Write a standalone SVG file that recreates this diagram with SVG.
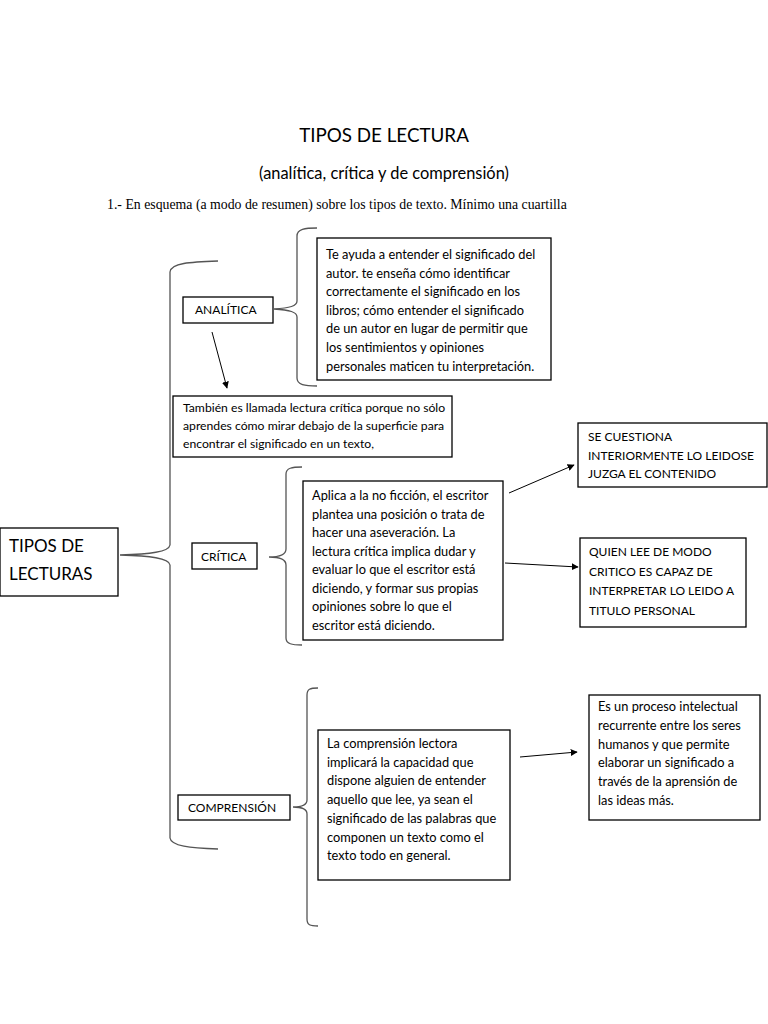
<svg xmlns="http://www.w3.org/2000/svg" width="768" height="1024" viewBox="0 0 768 1024">
<style>
.box{fill:#fff;stroke:#000;stroke-width:1.3}
.brace{fill:none;stroke:#555;stroke-width:1.3}
.arr{fill:none;stroke:#000;stroke-width:1}
.t{font-family:Lato,"Open Sans","Liberation Sans",sans-serif;fill:#000}
.s13{font-size:12.8px}
.s12{font-size:12px}
.s11{font-size:12.2px}
</style>
<defs>
<marker id="ah" viewBox="0 0 10 10" refX="9" refY="5" markerWidth="7" markerHeight="7" orient="auto" markerUnits="userSpaceOnUse">
<path d="M0,0 L10,5 L0,10 z" fill="#000"/>
</marker>
</defs>
<rect width="768" height="1024" fill="#fff"/>
<g id="header">
<text class="t" x="384" y="142" font-size="18.8" text-anchor="middle">TIPOS DE LECTURA</text>
<text class="t" x="384" y="179" font-size="16.4" text-anchor="middle">(analítica, crítica y de comprensión)</text>
<text x="107" y="209" font-family="'Liberation Serif','Times New Roman',serif" font-size="13.8">1.- En esquema (a modo de resumen) sobre los tipos de texto. Mínimo una cuartilla</text>
</g>
<g id="connectors">
<path class="brace" d="M218 261 C190 262 171 263 170 272 L170 545 C169 552 150 554 120 555 C150 556 169 558 170 565 L170 838 C171 846 190 848 218 849"/>
<path class="brace" d="M317 228 C305 228 297 229 297 236 L297 301 C297 306 290 308 274 309 C290 310 297 312 297 317 L297 378 C297 385 305 386 317 386"/>
<path class="brace" d="M302 467 C292 467 286 468 286 474 L286 549 C286 555 280 557 269 557 C280 557 286 559 286 565 L286 638 C286 644 292 645 302 645"/>
<path class="brace" d="M318 688 C310 688 307 689 307 695 L307 800 C307 805 302 807 293 807 C302 807 307 809 307 814 L307 919 C307 925 310 926 318 926"/>
<line class="arr" x1="212" y1="332" x2="227" y2="388" marker-end="url(#ah)"/>
<line class="arr" x1="509" y1="493" x2="574" y2="465" marker-end="url(#ah)"/>
<line class="arr" x1="505" y1="563" x2="578" y2="567" marker-end="url(#ah)"/>
<line class="arr" x1="520" y1="757" x2="577" y2="752" marker-end="url(#ah)"/>
</g>
<g id="tipos">
<rect class="box" x="0" y="528" width="118" height="68"/>
<text class="t" x="9" y="552" font-size="17">TIPOS DE</text>
<text class="t" x="9" y="580" font-size="17">LECTURAS</text>
</g>
<g id="analitica">
<rect class="box" x="183" y="297" width="90" height="26"/>
<text class="t s12" x="195" y="314">ANALÍTICA</text>
</g>
<g id="analitica-desc">
<rect class="box" x="317" y="238" width="234" height="142"/>
<text class="t s13" x="326" y="259">Te ayuda a entender el significado del</text>
<text class="t s13" x="326" y="277.6">autor. te enseña cómo identificar</text>
<text class="t s13" x="326" y="296.2">correctamente el significado en los</text>
<text class="t s13" x="326" y="314.8">libros; cómo entender el significado</text>
<text class="t s13" x="326" y="333.4">de un autor en lugar de permitir que</text>
<text class="t s13" x="326" y="352">los sentimientos y opiniones</text>
<text class="t s13" x="326" y="370.6">personales maticen tu interpretación.</text>
</g>
<g id="tambien">
<rect class="box" x="173" y="396" width="279" height="61"/>
<text class="t s11" x="183" y="412">También es llamada lectura crítica porque no sólo</text>
<text class="t s11" x="183" y="430">aprendes cómo mirar debajo de la superficie para</text>
<text class="t s11" x="183" y="448">encontrar el significado en un texto,</text>
</g>
<g id="critica">
<rect class="box" x="192" y="543" width="65" height="26"/>
<text class="t s12" x="201" y="561">CRÍTICA</text>
</g>
<g id="critica-desc">
<rect class="box" x="303" y="481" width="200" height="159"/>
<text class="t s13" x="312" y="500">Aplica a la no ficción, el escritor</text>
<text class="t s13" x="312" y="518.5">plantea una posición o trata de</text>
<text class="t s13" x="312" y="537">hacer una aseveración. La</text>
<text class="t s13" x="312" y="555.5">lectura crítica implica dudar y</text>
<text class="t s13" x="312" y="574">evaluar lo que el escritor está</text>
<text class="t s13" x="312" y="592.5">diciendo, y formar sus propias</text>
<text class="t s13" x="312" y="611">opiniones sobre lo que el</text>
<text class="t s13" x="312" y="629.5">escritor está diciendo.</text>
</g>
<g id="cuestiona">
<rect class="box" x="578" y="423" width="189" height="64"/>
<text class="t s12" x="588" y="441">SE CUESTIONA</text>
<text class="t s12" x="588" y="459.5">INTERIORMENTE LO LEIDOSE</text>
<text class="t s12" x="588" y="478">JUZGA EL CONTENIDO</text>
</g>
<g id="quien">
<rect class="box" x="580" y="538" width="166" height="89"/>
<text class="t s12" x="589" y="556">QUIEN LEE DE MODO</text>
<text class="t s12" x="589" y="575.5">CRITICO ES CAPAZ DE</text>
<text class="t s12" x="589" y="595">INTERPRETAR LO LEIDO A</text>
<text class="t s12" x="589" y="614.5">TITULO PERSONAL</text>
</g>
<g id="comprension">
<rect class="box" x="178" y="795" width="112" height="25"/>
<text class="t s12" x="188" y="812">COMPRENSIÓN</text>
</g>
<g id="comprension-desc">
<rect class="box" x="318" y="730" width="192" height="150"/>
<text class="t s13" x="327" y="748">La comprensión lectora</text>
<text class="t s13" x="327" y="766.7">implicará la capacidad que</text>
<text class="t s13" x="327" y="785.4">dispone alguien de entender</text>
<text class="t s13" x="327" y="804.1">aquello que lee, ya sean el</text>
<text class="t s13" x="327" y="822.8">significado de las palabras que</text>
<text class="t s13" x="327" y="841.5">componen un texto como el</text>
<text class="t s13" x="327" y="860.2">texto todo en general.</text>
</g>
<g id="proceso">
<rect class="box" x="589" y="695" width="171" height="125"/>
<text class="t s13" x="598" y="711">Es un proceso intelectual</text>
<text class="t s13" x="598" y="729.8">recurrente entre los seres</text>
<text class="t s13" x="598" y="748.6">humanos y que permite</text>
<text class="t s13" x="598" y="767.4">elaborar un significado a</text>
<text class="t s13" x="598" y="786.2">través de la aprensión de</text>
<text class="t s13" x="598" y="805">las ideas más.</text>
</g>
</svg>
